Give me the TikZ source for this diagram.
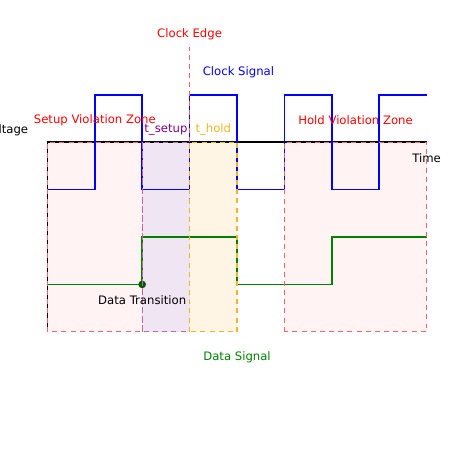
\documentclass[tikz,border=0pt]{standalone}
\usepackage{fontspec}
\setmainfont{DejaVu Sans}
\usepackage{tikz}
\usetikzlibrary{positioning,calc}
\definecolor{zonered}{RGB}{245,100,110}
\definecolor{zonefill}{RGB}{255,243,243}
\definecolor{setupc}{RGB}{128,0,128}
\definecolor{setupfill}{RGB}{240,230,243}
\definecolor{holdc}{RGB}{245,180,40}
\definecolor{holdfill}{RGB}{255,245,228}
\definecolor{datagreen}{RGB}{0,128,0}
\tikzset{
  zone/.style={dashed,dash pattern=on 3pt off 2.5pt,line width=0.7pt},
  sig/.style={line width=1pt},
  lbl/.style={font=\fontsize{7}{8}\selectfont,inner sep=0pt}
}

\begin{document}
\begin{tikzpicture}[x=1cm,y=1cm]
\useasboundingbox (-1,-3) rectangle (9,7);
% shaded zones
\fill[zonefill] (0,0) rectangle (2,4);
\fill[setupfill] (2,0) rectangle (3,4);
\fill[holdfill] (3,0) rectangle (4,4);
\fill[zonefill] (5,0) rectangle (8,4);
% axes
\draw[line width=0.9pt] (0,0) -- (0,4) -- (8,4);
% clock and data
\draw[sig,blue] (0,3) -- (1,3) -- (1,5) -- (2,5) -- (2,3) -- (3,3) -- (3,5) -- (4,5) -- (4,3) -- (5,3) -- (5,5) -- (6,5) -- (6,3) -- (7,3) -- (7,5) -- (8,5);
\draw[sig,datagreen] (0,1) -- (2,1) -- (2,2) -- (4,2) -- (4,1) -- (6,1) -- (6,2) -- (8,2);
\coordinate (trans) at (2,1);
\fill[datagreen!70!black] (trans) circle (2.3pt);
% zone borders
\draw[zone,zonered] (0,0) rectangle (2,4);
\draw[zone,setupc!60] (2,0) rectangle (3,4);
\draw[zone,holdc] (3,0) rectangle (4,4);
\draw[zone,zonered] (5,0) rectangle (8,4);
\coordinate (edgetop) at (3,6);
\coordinate (edgebot) at (3,4);
\draw[zone,zonered] (edgebot) -- (edgetop);
% labels
\node[lbl,red] (edge) at (3,6.28) {Clock Edge};
\node[lbl,blue] (clk) at (4.03,5.47) {Clock Signal};
\node[lbl,anchor=east] (volt) at (-0.4,4.26) {Voltage};
\node[lbl] (time) at (8,3.67) {Time};
\node[lbl,red] (setupz) at (1,4.47) {Setup Violation Zone};
\node[lbl,red] (holdz) at (6.5,4.47) {Hold Violation Zone};
\node[lbl,setupc] (tsu) at (2.5,4.26) {t\_setup};
\node[lbl,holdc] (th) at (3.5,4.26) {t\_hold};
\node[lbl] (dtrans) at (2,0.67) {Data Transition};
\node[lbl,datagreen] (dsig) at (4,-0.53) {Data Signal};
\end{tikzpicture}
\end{document}
